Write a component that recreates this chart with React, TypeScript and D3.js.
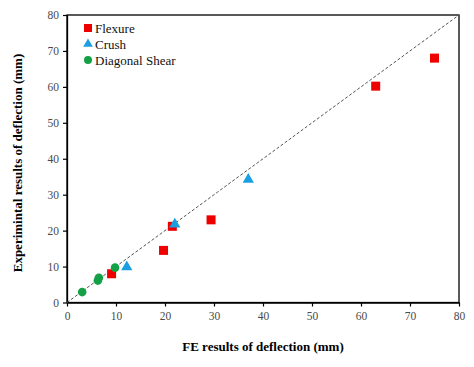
import { useRef, useEffect } from "react";
import * as d3 from "d3";

const flexureFE = [75, 63, 29.4, 19.7, 21.5, 9.1];
const flexureExp = [68, 60.2, 23, 14.5, 21.2, 8];
const crushFE = [37, 22, 12.2];
const crushExp = [34.2, 21.8, 9.9];
const shearFE = [3.1, 6.3, 6.5, 9.8];
const shearExp = [2.9, 6.1, 6.9, 9.7];
const ticks = [0, 10, 20, 30, 40, 50, 60, 70, 80];
const legendNames = ["Flexure", "Crush", "Diagonal Shear"];

export default function App() {
  const svgRef = useRef<SVGSVGElement>(null);

  useEffect(() => {
    const w = 474;
    const h = 367;
    const m = { left: 67, right: 15, top: 15, bottom: 64.5 };
    const svg = d3.select(svgRef.current).attr("width", w).attr("height", h);
    svg.selectAll("*").remove();

    const x = d3.scaleLinear().domain([0, 80]).range([m.left, w - m.right]);
    const y = d3.scaleLinear().domain([0, 80]).range([h - m.bottom, m.top]);
    const font = "Liberation Serif, Times New Roman, DejaVu Serif, serif";

    // frame
    svg
      .append("rect")
      .attr("x", x(0))
      .attr("y", y(80))
      .attr("width", x(80) - x(0))
      .attr("height", y(0) - y(80))
      .attr("fill", "none")
      .attr("stroke", "#000")
      .attr("stroke-width", 1.3);

    // axes
    const xAxis = svg
      .append("g")
      .attr("transform", `translate(0,${y(0)})`)
      .call(d3.axisBottom(x).tickValues(ticks).tickSize(4).tickSizeOuter(0));
    const yAxis = svg
      .append("g")
      .attr("transform", `translate(${x(0)},0)`)
      .call(d3.axisLeft(y).tickValues(ticks).tickSize(4).tickSizeOuter(0));
    [xAxis, yAxis].forEach((g) => {
      g.attr("font-family", null);
      g.select(".domain").attr("stroke-width", 1.3);
      g.selectAll("line").attr("stroke-width", 1.2);
      g.selectAll("text")
        .style("font-family", font)
        .style("font-size", "11.5px")
        .attr("fill", "#4a4a4a");
    });
    xAxis.selectAll("text").attr("dy", "0.95em");
    yAxis.selectAll("text").attr("x", -8);

    // 1:1 line
    svg
      .append("line")
      .attr("x1", x(0))
      .attr("y1", y(0))
      .attr("x2", x(80))
      .attr("y2", y(80))
      .attr("stroke", "#555")
      .attr("stroke-width", 1)
      .attr("stroke-dasharray", "3,2");

    // flexure squares
    svg
      .append("g")
      .selectAll("rect")
      .data(flexureFE)
      .join("rect")
      .attr("x", (d) => x(d) - 4.5)
      .attr("y", (d, i) => y(flexureExp[i]) - 4.5)
      .attr("width", 9)
      .attr("height", 9)
      .attr("fill", "#ee0000");

    // crush triangles
    const tri = d3.symbol().type(d3.symbolTriangle).size(55);
    svg
      .append("g")
      .selectAll("path")
      .data(crushFE)
      .join("path")
      .attr("d", tri)
      .attr("transform", (d, i) => `translate(${x(d)},${y(crushExp[i])})`)
      .attr("fill", "#1aa0e0");

    // shear circles
    svg
      .append("g")
      .selectAll("circle")
      .data(shearFE)
      .join("circle")
      .attr("cx", (d) => x(d))
      .attr("cy", (d, i) => y(shearExp[i]))
      .attr("r", 4.3)
      .attr("fill", "#14a046");

    // legend
    const lg = svg.append("g").attr("transform", "translate(88,28)");
    legendNames.forEach((name, i) => {
      const g = lg.append("g").attr("transform", `translate(0,${i * 16})`);
      if (i === 0)
        g.append("rect").attr("x", -4).attr("y", -4).attr("width", 8).attr("height", 8).attr("fill", "#ee0000");
      else if (i === 1)
        g.append("path").attr("d", d3.symbol().type(d3.symbolTriangle).size(40)).attr("fill", "#1aa0e0");
      else g.append("circle").attr("r", 4).attr("fill", "#14a046");
      g.append("text")
        .attr("x", 7)
        .attr("y", 4.5)
        .style("font-family", font)
        .style("font-size", "13px")
        .attr("fill", "#111")
        .text(name);
    });

    // axis titles
    svg
      .append("text")
      .attr("x", (x(0) + x(80)) / 2)
      .attr("y", 351)
      .attr("text-anchor", "middle")
      .style("font-family", font)
      .style("font-weight", "bold")
      .style("font-size", "13px")
      .text("FE results of deflection (mm)");
    svg
      .append("text")
      .attr("transform", `translate(22,163) rotate(-90)`)
      .attr("text-anchor", "middle")
      .style("font-family", font)
      .style("font-weight", "bold")
      .style("font-size", "13px")
      .text("Experimintal results of deflection (mm)");
  }, []);

  return (
    <div style={{ margin: -8 }}>
      <svg ref={svgRef} style={{ display: "block", background: "#fff" }}></svg>
    </div>
  );
}
